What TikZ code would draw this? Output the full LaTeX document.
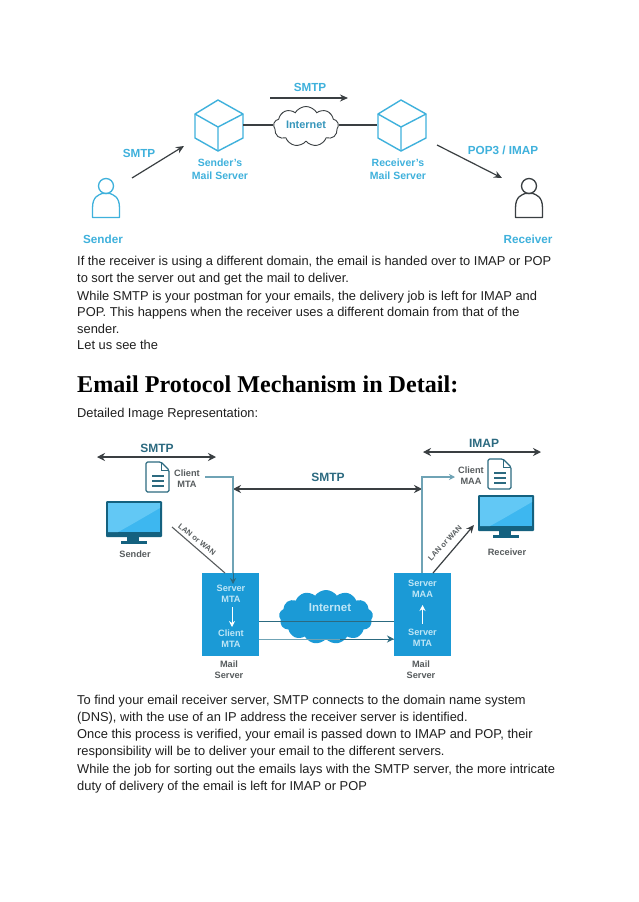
\documentclass[tikz,border=0pt]{standalone}
\usepackage{fontspec}
\setmainfont{Liberation Sans}
\newfontfamily\headfont{Liberation Serif}
\usetikzlibrary{arrows.meta,shapes.symbols,calc}
\definecolor{topblue}{HTML}{3FB1DC}
\definecolor{linedark}{HTML}{3A3F42}
\definecolor{tealdark}{HTML}{2C6A80}
\definecolor{boxblue}{HTML}{1B9AD6}
\definecolor{greyblue}{HTML}{6FA3B5}
\definecolor{screen}{HTML}{3DB7F0}
\definecolor{screenlite}{HTML}{62C8F5}
\definecolor{screendark}{HTML}{14617F}
\definecolor{boxtext}{HTML}{BFE6F6}
\tikzset{
 x=1pt,y=-1pt,
 body/.style={anchor=base west,inner sep=0pt,font=\fontsize{12.87}{15}\selectfont,text=black!88},
 toplabel/.style={inner sep=0pt,align=center,text=topblue,font=\bfseries\fontsize{11.7}{13}\selectfont},
 topsmall/.style={inner sep=0pt,align=center,text=topblue,font=\bfseries\fontsize{10.5}{13}\selectfont},
 botlabel/.style={inner sep=0pt,align=center,text=tealdark,font=\bfseries\fontsize{12}{14}\selectfont},
 smalllabel/.style={inner sep=0pt,align=center,text=linedark!85,font=\bfseries\fontsize{9.2}{11}\selectfont},
 lanlabel/.style={inner sep=0pt,text=linedark!85,font=\bfseries\fontsize{7.6}{10}\selectfont},
 boxlabel/.style={inner sep=0pt,align=center,text=boxtext,font=\bfseries\fontsize{9.2}{10.8}\selectfont},
 iconline/.style={draw=topblue,line width=1.4pt,line join=round},
 arr/.style={draw=linedark,line width=1.2pt,-{Stealth[length=8pt,width=7pt]}},
 darr/.style={draw=linedark,line width=1.1pt,{Stealth[length=8pt,width=8pt]}-{Stealth[length=8pt,width=8pt]}},
 server/.style={fill=boxblue,draw=none,minimum width=57pt,minimum height=83pt,inner sep=0pt},
}
\newcommand{\cubeicon}[2]{%
 \draw[iconline] (#1,#2-27)--(#1+25,#2-13)--(#1+25,#2+11)--(#1,#2+24)--(#1-23,#2+11)--(#1-23,#2-13)--cycle;
 \draw[iconline] (#1-23,#2-13)--(#1,#2)--(#1+25,#2-13) (#1,#2)--(#1,#2+24);}
\newcommand{\personicon}[3]{%
 \draw[#3,line width=1.3pt] (#1,#2) circle[radius=7.5];
 \draw[#3,line width=1.3pt,line join=round] (#1-13.5,#2+31.5) -- (#1-13.5,#2+22) .. controls (#1-13.5,#2+10) and (#1-7,#2+9) .. (#1-4,#2+7.5) -- (#1+4,#2+7.5) .. controls (#1+7,#2+9) and (#1+13.5,#2+10) .. (#1+13.5,#2+22) -- (#1+13.5,#2+31.5) -- cycle;}
\newcommand{\docicon}[2]{%
 \draw[draw=tealdark,line width=1.2pt,line join=round,rounded corners=1.5pt] (#1,#2) -- (#1+15,#2) -- (#1+23,#2+8) -- (#1+23,#2+30) -- (#1,#2+30) -- cycle;
 \draw[draw=tealdark,line width=1pt] (#1+15,#2)--(#1+15,#2+8)--(#1+23,#2+8);
 \draw[draw=tealdark,line width=1.1pt] (#1+6,#2+14)--(#1+18,#2+14) (#1+6,#2+19)--(#1+18,#2+19) (#1+6,#2+24)--(#1+18,#2+24);}
\newcommand{\monitoricon}[2]{%
 \fill[screendark,rounded corners=1pt] (#1,#2) rectangle (#1+56,#2+36);
 \fill[screen] (#1+2,#2+2) rectangle (#1+54,#2+31);
 \fill[screenlite] (#1+2,#2+2) -- (#1+54,#2+2) -- (#1+54,#2+7) .. controls (#1+40,#2+15) and (#1+25,#2+24) .. (#1+12,#2+31) -- (#1+2,#2+31) -- cycle;
 \fill[screendark] (#1+21,#2+36) rectangle (#1+33,#2+40);
 \fill[screendark] (#1+15,#2+40) rectangle (#1+41,#2+42.5);}
\begin{document}
\begin{tikzpicture}
\useasboundingbox (0,0) rectangle (638,902);
\fill[white] (0,0) rectangle (638,902);
% ---------- top diagram
\cubeicon{218}{127}
\cubeicon{401}{127}
\personicon{106}{186}{draw=topblue}
\personicon{529}{186}{draw=linedark}
\node[draw=linedark,fill=white,line width=.9pt,cloud,cloud puffs=9,cloud puff arc=120,aspect=1.7,minimum width=65pt,minimum height=40pt,inner sep=0pt] (cloudtop) at (306,126.5) {};
\node[inner sep=0pt,text=topblue!85!black,font=\bfseries\fontsize{10.9}{12}\selectfont] (internettop) at (306,125) {Internet};
\coordinate (srvA) at (243,125);
\coordinate (srvB) at (377,125);
\draw[draw=linedark,line width=1.2pt] (srvA)--(cloudtop.west|-srvA) (cloudtop.east|-srvB)--(srvB);
\coordinate (smtpS) at (270,98); \coordinate (smtpE) at (348,98);
\draw[arr] (smtpS)--(smtpE);
\node[toplabel] (smtpT) at (310,87) {SMTP};
\coordinate (sendA) at (132,178); \coordinate (sendB) at (184,146);
\draw[arr] (sendA)--(sendB);
\node[toplabel] (smtpL) at (139,153) {SMTP};
\coordinate (recvA) at (437,145); \coordinate (recvB) at (502,178);
\draw[arr] (recvA)--(recvB);
\node[toplabel] (popL) at (503,150) {POP3 / IMAP};
\node[topsmall] (senderM) at (220,169) {Sender's\\Mail Server};
\node[topsmall] (recvM) at (398,169) {Receiver's\\Mail Server};
\node[toplabel] (senderT) at (103,239) {Sender};
\node[toplabel] (recvT) at (528,239) {Receiver};
% ---------- body text 1
\node[body] (l1) at (77,265) {If the receiver is using a different domain, the email is handed over to IMAP or POP};
\node[body] (l2) at (77,282) {to sort the server out and get the mail to deliver.};
\node[body] (l3) at (77,300) {While SMTP is your postman for your emails, the delivery job is left for IMAP and};
\node[body] (l4) at (77,316) {POP. This happens when the receiver uses a different domain from that of the};
\node[body] (l5) at (77,333) {sender.};
\node[body] (l6) at (77,349) {Let us see the};
\node[anchor=base west,inner sep=0pt,text=black,font=\headfont\bfseries\fontsize{24.1}{26}\selectfont] (head) at (77,392) {Email Protocol Mechanism in Detail:};
\node[body] (l7) at (77,417) {Detailed Image Representation:};
% ---------- bottom diagram
\node[draw=none,fill=boxblue,cloud,cloud puffs=13,cloud puff arc=110,aspect=1.8,minimum width=94pt,minimum height=54pt,inner sep=0pt] (cloudbot) at (326,617) {};
\node[server] (boxL) at (230.5,614.5) {};
\node[server] (boxR) at (422.5,614.5) {};
\node[inner sep=0pt,text=boxtext,font=\bfseries\fontsize{11.5}{13}\selectfont] (internetbot) at (330,608) {Internet};
\coordinate (a1) at (259,621); \coordinate (a2) at (394,621);
\coordinate (b1) at (259,639); \coordinate (b2) at (394,639);
\draw[draw=tealdark,line width=1pt] (a1)--(a2);
\draw[draw=greyblue,line width=1pt] (b1)--(b2);
\draw[draw=tealdark,line width=1pt,-{Stealth[length=7pt,width=7pt]}] (340,639)--(b2);
\node[boxlabel] (sm1) at (231,594) {Server\\MTA};
\node[boxlabel] (cm1) at (231,639) {Client\\MTA};
\node[boxlabel] (sm2) at (422.5,589) {Server\\MAA};
\node[boxlabel] (sm3) at (422.5,638) {Server\\MTA};
\coordinate (ia1) at (232,607); \coordinate (ia2) at (232,627);
\coordinate (ib1) at (422.5,624); \coordinate (ib2) at (422.5,605);
\draw[draw=white,line width=.9pt,-{Stealth[length=6pt,width=6pt]}] (ia1)--(ia2);
\draw[draw=white,line width=.9pt,-{Stealth[length=6pt,width=6pt]}] (ib1)--(ib2);
\node[smalllabel] (ms1) at (229,670) {Mail\\Server};
\node[smalllabel] (ms2) at (421,670) {Mail\\Server};
\docicon{146}{462}
\docicon{488}{459}
\node[smalllabel] (cl1) at (187,478.5) {Client\\MTA};
\node[smalllabel] (cl2) at (471,475.5) {Client\\MAA};
\monitoricon{106}{501}
\monitoricon{478}{495}
\node[smalllabel] (snd) at (135,554) {Sender};
\node[smalllabel] (rcv) at (507,552) {Receiver};
\coordinate (dl1) at (97,457); \coordinate (dl2) at (216,457);
\draw[darr] (dl1)--(dl2);
\node[botlabel] (smtpA) at (157,448) {SMTP};
\coordinate (dr1) at (423,452); \coordinate (dr2) at (541,452);
\draw[darr] (dr1)--(dr2);
\node[botlabel] (imapA) at (484,443) {IMAP};
\coordinate (dm1) at (233,489); \coordinate (dm2) at (422,489);
\draw[darr] (dm1)--(dm2);
\node[botlabel] (smtpB) at (328,477) {SMTP};
\coordinate (c1) at (205,477); \coordinate (c2) at (233,477); \coordinate (c3) at (233,584); \coordinate (c4) at (233,573);
\draw[draw=greyblue,line width=1.1pt] (c1)--(c2)--(c4);
\draw[draw=tealdark,line width=.8pt,-{Stealth[length=6pt,width=6pt]}] (c4)--(c3);
\coordinate (d1) at (422,573); \coordinate (d2) at (422,477); \coordinate (d3) at (455,477);
\draw[draw=greyblue,line width=1.1pt,-{Stealth[length=6pt,width=6pt]}] (d1)--(d2)--(d3);
\coordinate (e1) at (172,527); \coordinate (e2) at (225,573);
\draw[draw=linedark!85,line width=1.1pt] (e1)--(e2);
\node[lanlabel,rotate=-38] (lan1) at (197,539.5) {LAN or WAN};
\coordinate (f1) at (433,573); \coordinate (f2) at (474,525);
\draw[arr] (f1)--(f2);
\node[lanlabel,rotate=47] (lan2) at (445,543) {LAN or WAN};
% ---------- body text 2
\node[body] (m1) at (77,704) {To find your email receiver server, SMTP connects to the domain name system};
\node[body] (m2) at (77,721) {(DNS), with the use of an IP address the receiver server is identified.};
\node[body] (m3) at (77,738) {Once this process is verified, your email is passed down to IMAP and POP, their};
\node[body] (m4) at (77,755) {responsibility will be to deliver your email to the different servers.};
\node[body] (m5) at (77,773) {While the job for sorting out the emails lays with the SMTP server, the more intricate};
\node[body] (m6) at (77,790) {duty of delivery of the email is left for IMAP or POP};
\end{tikzpicture}
\end{document}
